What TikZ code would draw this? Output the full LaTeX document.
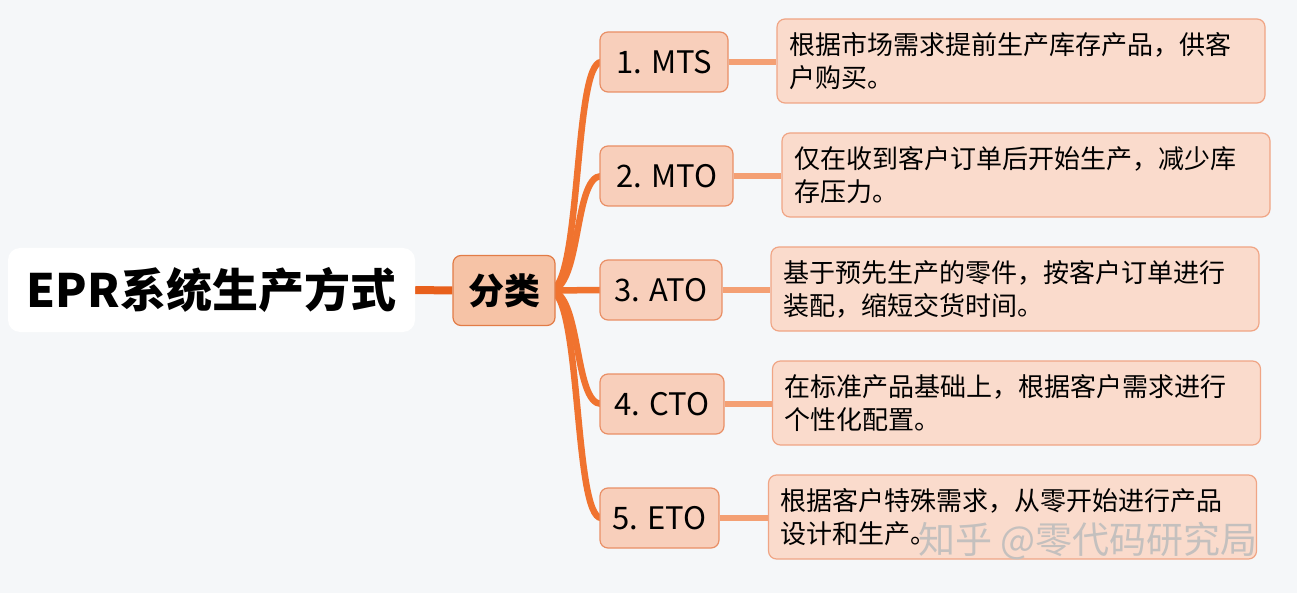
\documentclass[tikz,border=0pt]{standalone}
\usepackage{fontspec}
\setmainfont{Noto Sans CJK SC}
\usetikzlibrary{backgrounds}
\definecolor{bgc}{HTML}{F5F7F9}
\definecolor{rootline}{HTML}{E8601C}
\definecolor{branch}{HTML}{F0732F}
\definecolor{leafline}{HTML}{F4A074}
\definecolor{catfill}{HTML}{F6C3A6}
\definecolor{catdraw}{HTML}{E27C47}
\definecolor{chfill}{HTML}{F8CFBB}
\definecolor{chdraw}{HTML}{E98F66}
\definecolor{dfill}{HTML}{FADBCC}
\definecolor{ddraw}{HTML}{F0A585}
\definecolor{wmcol}{HTML}{C4C0BE}
\tikzset{
  rootbox/.style={fill=white, rounded corners=12pt, minimum width=407pt, minimum height=84pt, inner sep=0pt,
    font=\fontsize{46}{50}\selectfont\bfseries},
  catbox/.style={fill=catfill, draw=catdraw, line width=1.2pt, rounded corners=8pt, minimum width=102pt, minimum height=70pt, inner sep=0pt,
    font=\fontsize{36}{40}\selectfont\bfseries},
  chbox/.style={fill=chfill, draw=chdraw, line width=1.2pt, rounded corners=8pt, minimum height=60pt, inner sep=0pt,
    font=\fontsize{31}{34}\selectfont},
  descbox/.style={fill=dfill, draw=ddraw, line width=1.2pt, rounded corners=8pt, minimum height=84pt, text width=464pt,
    inner xsep=12pt, inner ysep=0pt, align=left, font=\fontsize{26}{33}\selectfont},
  rootconn/.style={draw=rootline, line width=8pt},
  brconn/.style={draw=branch, line width=6.5pt, line cap=round},
  brbase/.style={draw=branch, line width=10pt},
  leafconn/.style={draw=leafline, line width=6pt},
  wm/.style={font=\fontsize{37}{40}\selectfont, inner sep=0pt, text=wmcol}
}
\begin{document}
\begin{tikzpicture}[x=1pt, y=-1pt]
\useasboundingbox (0,0) rectangle (1297,593);

% root and category
\node[rootbox] (root) at (211.5,290) {EPR系统生产方式};
\node[catbox] (cat) at (504,290.5) {分类};

% children
\node[chbox, minimum width=128pt] (c1) at (664,62) {1. MTS};
\node[chbox, minimum width=133pt] (c2) at (666.5,176) {2. MTO};
\node[chbox, minimum width=122pt] (c3) at (661,290) {3. ATO};
\node[chbox, minimum width=124pt] (c4) at (662,404) {4. CTO};
\node[chbox, minimum width=119pt] (c5) at (659.5,518) {5. ETO};

% descriptions
\node[descbox] (d1) at (1021,61) {根据市场需求提前生产库存产品，供客\\户购买。};
\node[descbox] (d2) at (1026,175) {仅在收到客户订单后开始生产，减少库\\存压力。};
\node[descbox] (d3) at (1015,289) {基于预先生产的零件，按客户订单进行\\装配，缩短交货时间。};
\node[descbox] (d4) at (1016.5,403) {在标准产品基础上，根据客户需求进行\\个性化配置。};
\node[descbox] (d5) at (1012.5,517) {根据客户特殊需求，从零开始进行产品\\设计和生产。};

% watermark
\node[wm] (wmt) at (1088,541) {知乎 @零代码研究局};

% connectors (behind boxes)
\begin{scope}[on background layer]
\fill[bgc] (0,0) rectangle (1297,593);
\path[rootconn] (root.east) -- (cat.west);
\foreach \c in {c1,c2,c3,c4,c5}{
  \path[brconn] ([xshift=-6pt]cat.east) .. controls +(32,0) and +(-28,0) .. ([xshift=2pt]\c.west);
}
\end{scope}
\begin{scope}[on background layer]
\foreach \c/\d in {c1/d1,c2/d2,c3/d3,c4/d4,c5/d5}{
  \path[leafconn] (\c.east) -- (\c.east -| \d.west);
}
\end{scope}
\end{tikzpicture}
\end{document}
